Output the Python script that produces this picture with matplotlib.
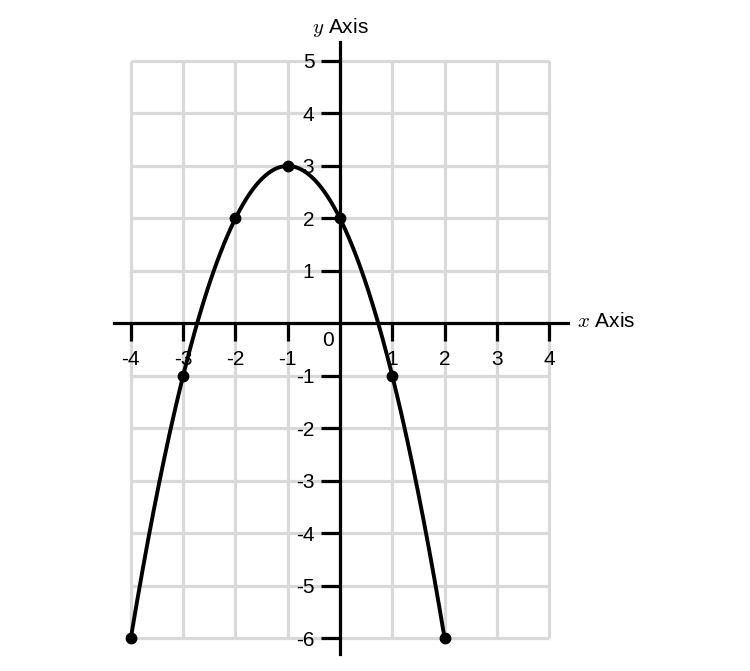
import numpy as np
import matplotlib
matplotlib.use('Agg')
import matplotlib.pyplot as plt

plt.rcParams['font.family'] = ['Liberation Sans', 'DejaVu Sans']
plt.rcParams['mathtext.fontset'] = 'cm'

# data points on the parabola
x_pts = [-4, -3, -2, -1, 0, 1, 2]
y_pts = [-6, -1, 2, 3, 2, -1, -6]

x_ticks = [-4, -3, -2, -1, 1, 2, 3, 4]
y_ticks = [-6, -5, -4, -3, -2, -1, 1, 2, 3, 4, 5]
grid_x = [-4, -3, -2, -1, 0, 1, 2, 3, 4]
grid_y = [-6, -5, -4, -3, -2, -1, 0, 1, 2, 3, 4, 5]

fig = plt.figure(figsize=(7.5, 6.71), dpi=100)
ax = fig.add_axes([0, 0, 1, 1])

# pixel mapping: x=0 at 340px, 52.3 px/unit ; y=0 at 323.4px, 52.48 px/unit
ax.set_xlim(-340 / 52.3, (750 - 340) / 52.3)
ax.set_ylim((323.4 - 671) / 52.48, 323.4 / 52.48)

grid_col = '#d9d9d9'
ax.vlines(grid_x, -6, 5, color=grid_col, lw=2.3, zorder=0)
ax.hlines(grid_y, -4, 4, color=grid_col, lw=2.3, zorder=0)

# smooth curve through the points (quadratic fit of the data)
coef = np.polyfit(x_pts, y_pts, 2)
xc = np.linspace(min(x_pts), max(x_pts), 400)
ax.plot(xc, np.polyval(coef, xc), color='black', lw=2.8, zorder=4)
ax.plot(x_pts, y_pts, 'o', color='black', ms=7.5, zorder=5)

# axes through the origin
for side in ['top', 'right']:
    ax.spines[side].set_visible(False)
ax.spines['bottom'].set_position(('data', 0))
ax.spines['left'].set_position(('data', 0))
ax.spines['bottom'].set_bounds(-4.33, 4.35)
ax.spines['left'].set_bounds(-6.3, 5.36)
for side in ['bottom', 'left']:
    ax.spines[side].set_linewidth(2.3)
    ax.spines[side].set_zorder(3)

fs = 15
ax.set_xticks(x_ticks)
ax.set_xticklabels([str(v) for v in x_ticks])
ax.set_yticks(y_ticks)
ax.set_yticklabels([str(v) for v in y_ticks])
ax.tick_params(axis='x', direction='out', length=13, width=2.3, pad=6.5, labelsize=fs)
ax.tick_params(axis='y', direction='out', length=13.5, width=2.3, pad=5, labelsize=fs)

ax.text(-0.23, -0.32, '0', fontsize=fs, ha='center', va='center')
ax.text(0, 5.53, '$y$ Axis', fontsize=fs, ha='center', va='baseline')
ax.text(4.53, -0.074, '$x$ Axis', fontsize=fs, ha='left', va='baseline')

fig.savefig('out.png', dpi=100)
